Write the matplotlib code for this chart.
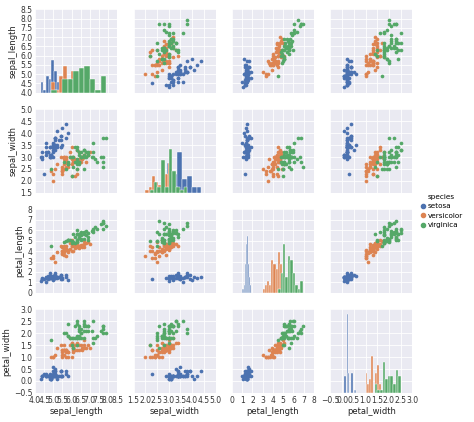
import numpy as np
import matplotlib.pyplot as plt

# iris data, per species: sepal_length, sepal_width, petal_length, petal_width
setosa = [
    [5.1,3.5,1.4,0.2],[4.9,3.0,1.4,0.2],[4.7,3.2,1.3,0.2],[4.6,3.1,1.5,0.2],[5.0,3.6,1.4,0.2],
    [5.4,3.9,1.7,0.4],[4.6,3.4,1.4,0.3],[5.0,3.4,1.5,0.2],[4.4,2.9,1.4,0.2],[4.9,3.1,1.5,0.1],
    [5.4,3.7,1.5,0.2],[4.8,3.4,1.6,0.2],[4.8,3.0,1.4,0.1],[4.3,3.0,1.1,0.1],[5.8,4.0,1.2,0.2],
    [5.7,4.4,1.5,0.4],[5.4,3.9,1.3,0.4],[5.1,3.5,1.4,0.3],[5.7,3.8,1.7,0.3],[5.1,3.8,1.5,0.3],
    [5.4,3.4,1.7,0.2],[5.1,3.7,1.5,0.4],[4.6,3.6,1.0,0.2],[5.1,3.3,1.7,0.5],[4.8,3.4,1.9,0.2],
    [5.0,3.0,1.6,0.2],[5.0,3.4,1.6,0.4],[5.2,3.5,1.5,0.2],[5.2,3.4,1.4,0.2],[4.7,3.2,1.6,0.2],
    [4.8,3.1,1.6,0.2],[5.4,3.4,1.5,0.4],[5.2,4.1,1.5,0.1],[5.5,4.2,1.4,0.2],[4.9,3.1,1.5,0.1],
    [5.0,3.2,1.2,0.2],[5.5,3.5,1.3,0.2],[4.9,3.1,1.5,0.1],[4.4,3.0,1.3,0.2],[5.1,3.4,1.5,0.2],
    [5.0,3.5,1.3,0.3],[4.5,2.3,1.3,0.3],[4.4,3.2,1.3,0.2],[5.0,3.5,1.6,0.6],[5.1,3.8,1.9,0.4],
    [4.8,3.0,1.4,0.3],[5.1,3.8,1.6,0.2],[4.6,3.2,1.4,0.2],[5.3,3.7,1.5,0.2],[5.0,3.3,1.4,0.2]]
versicolor = [
    [7.0,3.2,4.7,1.4],[6.4,3.2,4.5,1.5],[6.9,3.1,4.9,1.5],[5.5,2.3,4.0,1.3],[6.5,2.8,4.6,1.5],
    [5.7,2.8,4.5,1.3],[6.3,3.3,4.7,1.6],[4.9,2.4,3.3,1.0],[6.6,2.9,4.6,1.3],[5.2,2.7,3.9,1.4],
    [5.0,2.0,3.5,1.0],[5.9,3.0,4.2,1.5],[6.0,2.2,4.0,1.0],[6.1,2.9,4.7,1.4],[5.6,2.9,3.6,1.3],
    [6.7,3.1,4.4,1.4],[5.6,3.0,4.5,1.5],[5.8,2.7,4.1,1.0],[6.2,2.2,4.5,1.5],[5.6,2.5,3.9,1.1],
    [5.9,3.2,4.8,1.8],[6.1,2.8,4.0,1.3],[6.3,2.5,4.9,1.5],[6.1,2.8,4.7,1.2],[6.4,2.9,4.3,1.3],
    [6.6,3.0,4.4,1.4],[6.8,2.8,4.8,1.4],[6.7,3.0,5.0,1.7],[6.0,2.9,4.5,1.5],[5.7,2.6,3.5,1.0],
    [5.5,2.4,3.8,1.1],[5.5,2.4,3.7,1.0],[5.8,2.7,3.9,1.2],[6.0,2.7,5.1,1.6],[5.4,3.0,4.5,1.5],
    [6.0,3.4,4.5,1.6],[6.7,3.1,4.7,1.5],[6.3,2.3,4.4,1.3],[5.6,3.0,4.1,1.3],[5.5,2.5,4.0,1.3],
    [5.5,2.6,4.4,1.2],[6.1,3.0,4.6,1.4],[5.8,2.6,4.0,1.2],[5.0,2.3,3.3,1.0],[5.6,2.7,4.2,1.3],
    [5.7,3.0,4.2,1.2],[5.7,2.9,4.2,1.3],[6.2,2.9,4.3,1.3],[5.1,2.5,3.0,1.1],[5.7,2.8,4.1,1.3]]
virginica = [
    [6.3,3.3,6.0,2.5],[5.8,2.7,5.1,1.9],[7.1,3.0,5.9,2.1],[6.3,2.9,5.6,1.8],[6.5,3.0,5.8,2.2],
    [7.6,3.0,6.6,2.1],[4.9,2.5,4.5,1.7],[7.3,2.9,6.3,1.8],[6.7,2.5,5.8,1.8],[7.2,3.6,6.1,2.5],
    [6.5,3.2,5.1,2.0],[6.4,2.7,5.3,1.9],[6.8,3.0,5.5,2.1],[5.7,2.5,5.0,2.0],[5.8,2.8,5.1,2.4],
    [6.4,3.2,5.3,2.3],[6.5,3.0,5.5,1.8],[7.7,3.8,6.7,2.2],[7.7,2.6,6.9,2.3],[6.0,2.2,5.0,1.5],
    [6.9,3.2,5.7,2.3],[5.6,2.8,4.9,2.0],[7.7,2.8,6.7,2.0],[6.3,2.7,4.9,1.8],[6.7,3.3,5.7,2.1],
    [7.2,3.2,6.0,1.8],[6.2,2.8,4.8,1.8],[6.1,3.0,4.9,1.8],[6.4,2.8,5.6,2.1],[7.2,3.0,5.8,1.6],
    [7.4,2.8,6.1,1.9],[7.9,3.8,6.4,2.0],[6.4,2.8,5.6,2.2],[6.3,2.8,5.1,1.5],[6.1,2.6,5.6,1.4],
    [7.7,3.0,6.1,2.3],[6.3,3.4,5.6,2.4],[6.4,3.1,5.5,1.8],[6.0,3.0,4.8,1.8],[6.9,3.1,5.4,2.1],
    [6.7,3.1,5.6,2.4],[6.9,3.1,5.1,2.3],[5.8,2.7,5.1,1.9],[6.8,3.2,5.9,2.3],[6.7,3.3,5.7,2.5],
    [6.7,3.0,5.2,2.3],[6.3,2.5,5.0,1.9],[6.5,3.0,5.2,2.0],[6.2,3.4,5.4,2.3],[5.9,3.0,5.1,1.8]]

variables = ['sepal_length', 'sepal_width', 'petal_length', 'petal_width']
species = ['setosa', 'versicolor', 'virginica']
colors = ['#4C72B0', '#DD8452', '#55A868']
limits = [(4.0, 8.5), (1.5, 5.0), (0, 8), (-0.5, 3.0)]
steps = [0.5, 0.5, 1, 0.5]
# how high the tallest histogram bar reaches in each diagonal panel
diag_fill = [0.39, 0.52, 0.68, 0.95]

data = [np.array(setosa), np.array(versicolor), np.array(virginica)]

plt.rcParams.update({'font.size': 6, 'axes.facecolor': '#EAEAF2', 'axes.edgecolor': 'white',
                     'grid.color': 'white', 'xtick.color': '#333333', 'ytick.color': '#333333',
                     'axes.labelcolor': '#222222'})

fig, axes = plt.subplots(4, 4, figsize=(4.74, 4.22), dpi=100)
fig.subplots_adjust(left=0.074, right=0.87, bottom=0.069, top=0.978, wspace=0.2, hspace=0.2)

for i in range(4):
    for j in range(4):
        ax = axes[i, j]
        ax.grid(True, lw=0.6)
        ax.set_axisbelow(True)
        for s in ax.spines.values():
            s.set_visible(False)
        ax.tick_params(length=0, pad=2, labelsize=5.5)
        ax.set_xlim(limits[j])
        ax.set_ylim(limits[i])
        ax.set_xticks(np.arange(limits[j][0], limits[j][1] + 0.01, steps[j]))
        ax.set_yticks(np.arange(limits[i][0], limits[i][1] + 0.01, steps[i]))
        if i == j:
            tw = ax.twinx()
            top = 0
            for d, c in zip(data, colors):
                n, _, _ = tw.hist(d[:, j], bins=10, color=c, edgecolor='white', linewidth=0.3)
                top = max(top, n.max())
            tw.set_yticks([])
            for s in tw.spines.values():
                s.set_visible(False)
            tw.set_ylim(0, top / diag_fill[j])
        else:
            for d, c in zip(data, colors):
                ax.scatter(d[:, j], d[:, i], s=7, color=c, linewidths=0)
        if j == 0:
            ax.set_ylabel(variables[i], labelpad=2)
        else:
            ax.set_yticklabels([])
        if i == 3:
            ax.set_xlabel(variables[j], labelpad=2)
        else:
            ax.set_xticklabels([])

handles = [plt.Line2D([], [], marker='o', ls='', color=c, markersize=3) for c in colors]
fig.legend(handles, species, title='species', loc='center left', bbox_to_anchor=(0.875, 0.5),
           frameon=False, fontsize=5.2, title_fontsize=5.2, handletextpad=0.1,
           handlelength=1.0, borderpad=0.2)

fig.savefig('out.png', dpi=100)
